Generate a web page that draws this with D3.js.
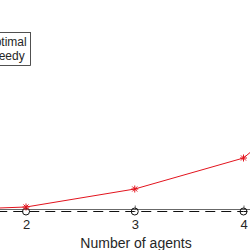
<!DOCTYPE html>
<html>
<head>
<meta charset="utf-8">
<script src="https://cdn.jsdelivr.net/npm/d3@7.9.0/dist/d3.min.js"></script>
<style>
  body { margin: 0; background: #fff; }
  svg { display: block; font-family: "Liberation Sans", Arial, sans-serif; }
</style>
</head>
<body>
<svg width="250" height="250"></svg>
<script>
// data
const agents = [1, 2, 3, 4, 5];
const greedy = [0, 0.2, 1.1, 2.65, 7.2];
const optimal = [0, 0, 0, 0, 0];
const tickLabels = [2, 3, 4];
const seriesNames = ['optimal', 'greedy'];

const svg = d3.select('svg');
const ink = '#262626';
const red = '#e3141e';

// axes region runs off the left/right edge of the crop
let x = d3.scaleLinear().domain([2, 4]).range([26, 243.5]);
let y = d3.scaleLinear().domain([0, 10]).range([211, 11]);

// x axis (ticks point inward, like matlab)
let axisY = 209.5;
let xAxis = d3.axisBottom(x)
  .tickValues(tickLabels)
  .tickFormat(d3.format('d'))
  .tickSizeInner(-4)
  .tickSizeOuter(0)
  .tickPadding(10);

let gx = svg.append('g')
  .attr('transform', `translate(0,${axisY})`)
  .call(xAxis);
gx.select('.domain').attr('stroke', ink).attr('stroke-width', 0.7)
  .attr('d', `M${x(1)},0H${x(5)}`);
gx.selectAll('.tick line').attr('stroke', ink).attr('stroke-width', 0.7);
gx.selectAll('.tick text').attr('fill', ink).style('font-size', '13px');

svg.append('text')
  .attr('x', 136)
  .attr('y', 248)
  .attr('text-anchor', 'middle')
  .attr('fill', ink)
  .style('font-size', '14px')
  .text('Number of agents');

// optimal: black dashed with circles
let line = d3.line().x((d, i) => x(agents[i])).y(d => y(d));

svg.append('path')
  .attr('d', line(optimal))
  .attr('fill', 'none')
  .attr('stroke', '#111')
  .attr('stroke-width', 1)
  .attr('stroke-dasharray', '10,6')
  .attr('transform', 'translate(0,0.5)');

optimal.forEach((d, i) => {
  svg.append('circle')
    .attr('cx', x(agents[i]))
    .attr('cy', y(d) + 0.5)
    .attr('r', 3.5)
    .attr('fill', 'none')
    .attr('stroke', '#111')
    .attr('stroke-width', 1);
});

// greedy: red solid with asterisks
svg.append('path')
  .attr('d', line(greedy))
  .attr('fill', 'none')
  .attr('stroke', red)
  .attr('stroke-width', 1);

let s = 3.5;
greedy.forEach((d, i) => {
  let cx = x(agents[i]), cy = y(d);
  let k = s * 0.72;
  svg.append('path')
    .attr('d', `M${cx - s},${cy}H${cx + s}M${cx},${cy - s}V${cy + s}` +
      `M${cx - k},${cy - k}L${cx + k},${cy + k}M${cx - k},${cy + k}L${cx + k},${cy - k}`)
    .attr('stroke', red)
    .attr('stroke-width', 1)
    .attr('fill', 'none');
});

// legend box, top-left (mostly cropped)
let legend = svg.append('g');
legend.append('rect')
  .attr('x', -70.5)
  .attr('y', 32.5)
  .attr('width', 101)
  .attr('height', 33)
  .attr('fill', '#fff')
  .attr('stroke', ink)
  .attr('stroke-width', 0.8);

seriesNames.forEach((name, i) => {
  legend.append('text')
    .attr('x', -12)
    .attr('y', 46 + i * 14)
    .attr('fill', ink)
    .style('font-size', '12px')
    .text(name);
});
</script>
</body>
</html>
